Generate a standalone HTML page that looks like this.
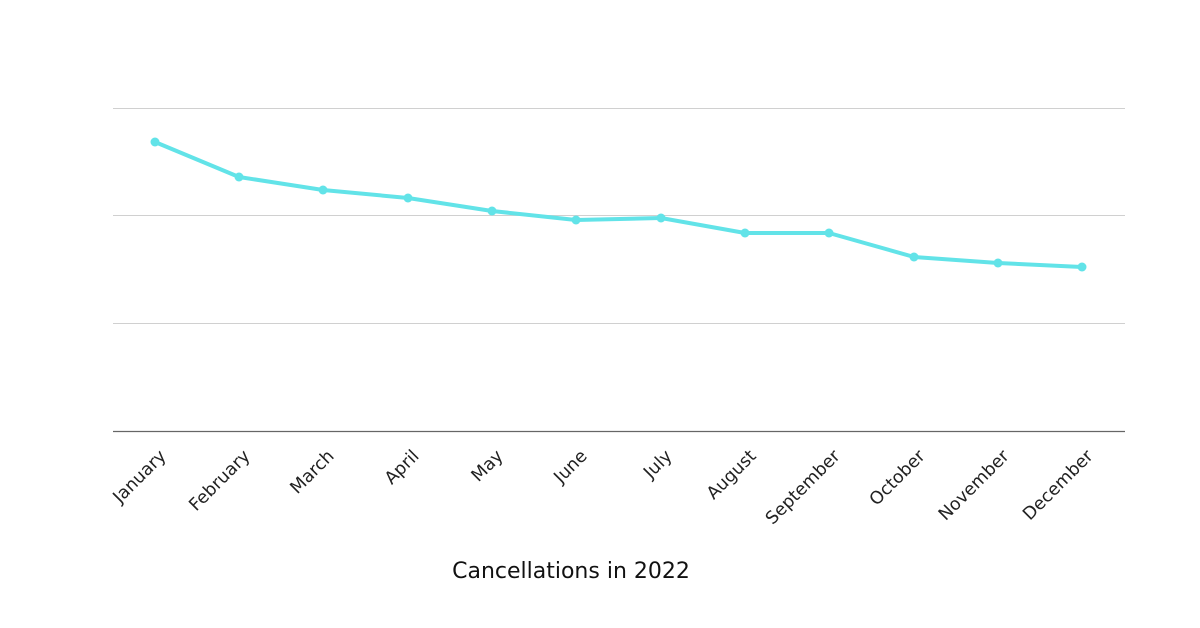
<!DOCTYPE html>
<html><head><style>html,body{margin:0;padding:0;background:#fff;}svg{display:block}</style></head>
<body>
<svg width="1200" height="628" xmlns="http://www.w3.org/2000/svg" font-family="'DejaVu Sans','Liberation Sans',sans-serif">
<rect width="1200" height="628" fill="#fff"/>
<g stroke="#d0d0d0" stroke-width="1">
<line x1="113" y1="108.5" x2="1125" y2="108.5"/>
<line x1="113" y1="215.5" x2="1125" y2="215.5"/>
<line x1="113" y1="323.5" x2="1125" y2="323.5"/>
</g>
<line x1="113" y1="431.5" x2="1125" y2="431.5" stroke="#666" stroke-width="1.3"/>
<polyline fill="none" stroke="#62e3e8" stroke-width="4" stroke-linejoin="round" points="155,142 239,177 323,190 408,198 492,211 576,220 661,218 745,233 829,233 914,257 998,263 1082,267"/>
<g fill="#62e3e8">
<circle cx="155" cy="142" r="4.5"/><circle cx="239" cy="177" r="4.5"/><circle cx="323" cy="190" r="4.5"/><circle cx="408" cy="198" r="4.5"/><circle cx="492" cy="211" r="4.5"/><circle cx="576" cy="220" r="4.5"/><circle cx="661" cy="218" r="4.5"/><circle cx="745" cy="233" r="4.5"/><circle cx="829" cy="233" r="4.5"/><circle cx="914" cy="257" r="4.5"/><circle cx="998" cy="263" r="4.5"/><circle cx="1082" cy="267" r="4.5"/>
</g>
<g font-size="17.5" fill="#222" text-anchor="end">
<text transform="translate(167,457) rotate(-45)">January</text>
<text transform="translate(251,457) rotate(-45)">February</text>
<text transform="translate(335,457) rotate(-45)">March</text>
<text transform="translate(420,457) rotate(-45)">April</text>
<text transform="translate(504,457) rotate(-45)">May</text>
<text transform="translate(588,457) rotate(-45)">June</text>
<text transform="translate(673,457) rotate(-45)">July</text>
<text transform="translate(757,457) rotate(-45)">August</text>
<text transform="translate(841,457) rotate(-45)">September</text>
<text transform="translate(926,457) rotate(-45)">October</text>
<text transform="translate(1010,457) rotate(-45)">November</text>
<text transform="translate(1094,457) rotate(-45)">December</text>
</g>
<text x="571" y="578" font-size="22" fill="#111" text-anchor="middle">Cancellations in 2022</text>
</svg>
</body></html>
